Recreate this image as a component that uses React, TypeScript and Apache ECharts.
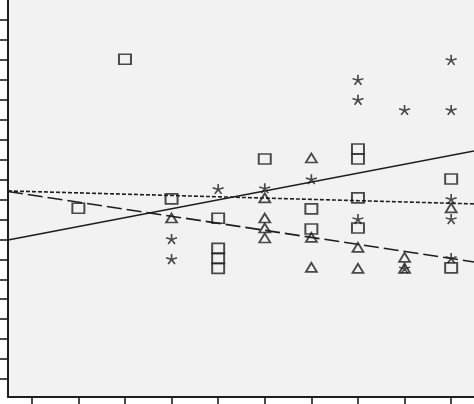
import React, { useEffect, useRef } from "react";
import * as echarts from "echarts";

// Tick positions (category index along x, unit steps along y)
const xTicks = [1, 2, 3, 4, 5, 6, 7, 8, 9, 10];
const yTicks = [1, 2, 3, 4, 5, 6, 7, 8, 9, 10, 11, 12, 13, 14, 15, 16, 17, 18, 19];

// Square markers
const squareX = [2, 3, 4, 5, 5, 5, 5, 6, 7, 7, 8, 8, 8, 8, 10, 10];
const squareY = [9.56, 17.03, 10.03, 9.06, 7.55, 7.05, 6.55, 12.03, 9.53, 8.52, 12.53, 12.03, 10.08, 8.57, 11.03, 6.57];

// Triangle markers
const triangleX = [4, 6, 6, 6, 6, 7, 7, 7, 8, 8, 9, 9, 10];
const triangleY = [9.07, 10.08, 9.07, 8.57, 8.07, 12.08, 8.1, 6.6, 7.6, 6.55, 7.1, 6.55, 9.58];

// Star markers
const starX = [4, 4, 5, 6, 7, 8, 8, 8, 9, 9, 10, 10, 10, 10, 10];
const starY = [8.02, 7.02, 10.53, 10.57, 11.02, 16.0, 15.0, 9.02, 14.49, 6.55, 17.0, 14.49, 10.03, 9.02, 7.07];

// Fit lines (end points)
const lineXs = [0.49, 10.49];
const solidLineY = [7.97, 12.43];
const shortDashY = [10.43, 9.78];
const longDashY = [10.4, 6.87];

const INK = "#1e1e1e";
const STAR =
  "path://M0,-5L0,0M4.76,-1.55L0,0M2.94,4.05L0,0M-2.94,4.05L0,0M-4.76,-1.55L0,0";

const zip = (xs: number[], ys: number[]) => xs.map((x, i) => [x, ys[i]]);

export default function App() {
  const ref = useRef<HTMLDivElement>(null);
  useEffect(() => {
    if (!ref.current) return;
    const chart = echarts.init(ref.current, undefined, { renderer: "svg" });
    const markerStyle = {
      color: "transparent",
      borderColor: INK,
      borderWidth: 1.8,
    };
    const lineSeries = (ys: number[], type: any) => ({
      type: "line",
      data: zip(lineXs, ys),
      symbol: "none",
      silent: true,
      z: 1,
      lineStyle: { color: INK, width: 1.6, type },
    });
    chart.setOption({
      animation: false,
      backgroundColor: "#ffffff",
      grid: {
        left: 8,
        right: 0,
        top: 0,
        bottom: 7,
        show: true,
        backgroundColor: "#f2f2f2",
        borderWidth: 0,
      },
      xAxis: {
        type: "value",
        min: 0.49,
        max: 10.49,
        splitLine: { show: false },
        axisLine: { show: true, lineStyle: { color: INK, width: 2 } },
        axisTick: {
          show: true,
          inside: false,
          length: 9,
          customValues: xTicks,
          lineStyle: { color: INK, width: 1.6 },
        },
        axisLabel: { show: false },
      },
      yAxis: {
        type: "value",
        min: 0.1,
        max: 20,
        splitLine: { show: false },
        axisLine: { show: true, lineStyle: { color: INK, width: 2 } },
        axisTick: {
          show: true,
          inside: false,
          length: 9,
          customValues: yTicks,
          lineStyle: { color: INK, width: 1.6 },
        },
        axisLabel: { show: false },
      },
      series: [
        lineSeries(solidLineY, "solid"),
        lineSeries(shortDashY, [4, 2]),
        lineSeries(longDashY, [15, 5]),
        {
          type: "scatter",
          data: zip(squareX, squareY),
          symbol: "rect",
          symbolSize: [12, 10],
          itemStyle: markerStyle,
          z: 3,
        },
        {
          type: "scatter",
          data: zip(triangleX, triangleY),
          symbol: "triangle",
          symbolSize: [11, 9],
          itemStyle: markerStyle,
          z: 3,
        },
        {
          type: "scatter",
          data: zip(starX, starY),
          symbol: STAR,
          symbolSize: [11, 10],
          itemStyle: { ...markerStyle, borderWidth: 1.6 },
          z: 3,
        },
      ],
    });
    return () => chart.dispose();
  }, []);
  return (
    <div
      ref={ref}
      style={{ position: "fixed", left: 0, top: 0, width: 474, height: 404, background: "#fff" }}
    />
  );
}
